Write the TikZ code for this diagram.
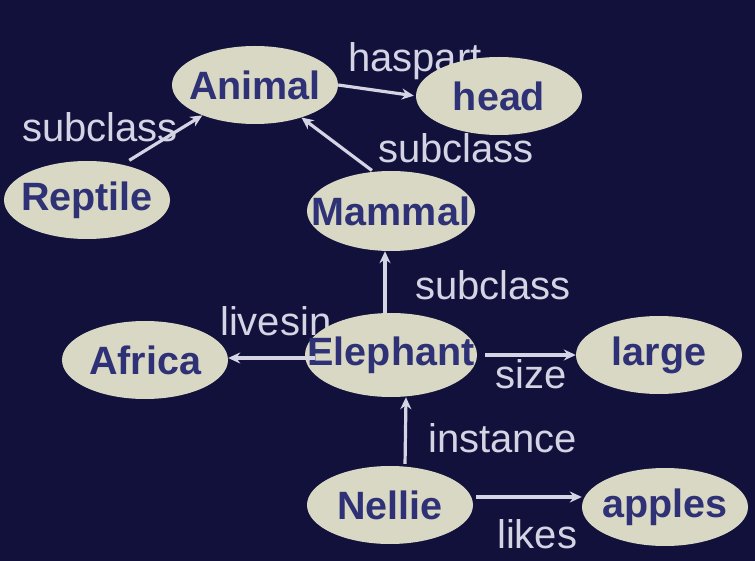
\documentclass[tikz,border=0pt]{standalone}
\usepackage{fontspec}
\setmainfont{Liberation Sans}
\usetikzlibrary{shapes.geometric,arrows.meta}
\definecolor{bgc}{HTML}{11113C}
\definecolor{blobfill}{HTML}{D8D8C4}
\definecolor{blobtext}{HTML}{2E3175}
\definecolor{linec}{HTML}{D4D4E4}
\tikzset{
  blob/.style={ellipse, fill=blobfill, inner sep=0pt, minimum width=166pt, minimum height=78pt,
    label={[text=blobtext, font=\fontsize{39.5}{42}\selectfont\bfseries]center:#1}},
  rel/.style={text=linec, font=\fontsize{40}{42}\selectfont, anchor=base west, inner sep=0pt},
  arr/.style={draw=linec, line width=3.2pt, -{Stealth[length=12pt,width=11pt]}}
}
\begin{document}
\begin{tikzpicture}[x=1pt,y=-1pt]
\fill[bgc] (0,0) rectangle (755,561);
\useasboundingbox (0,0) rectangle (755,561);
% relation labels (behind the ellipses)
\node[rel] (l1) at (348,72) {haspart};
\node[rel] (l2) at (22,142) {subclass};
\node[rel] (l3) at (378,163) {subclass};
\node[rel] (l4) at (415,300) {subclass};
\node[rel] (l5) at (220,335) {livesin};
\node[rel] (l6) at (495,388) {size};
\node[rel] (l7) at (428,452) {instance};
\node[rel] (l8) at (497,548) {likes};
% nodes
\node[blob=Animal] (animal) at (255,85) {};
\node[blob=head] (head) at (499,96) {};
\node[blob=Reptile] (reptile) at (87,200) {};
\node[blob=Mammal, minimum width=168pt, minimum height=80pt] (mammal) at (391,211) {};
\node[blob=Africa] (africa) at (145,360) {};
\node[blob=Elephant, minimum width=172pt, minimum height=84pt] (elephant) at (391,355) {};
\node[blob=large] (large) at (659,355) {};
\node[blob=Nellie] (nellie) at (390,505) {};
\node[blob=apples] (apples) at (665,507) {};
% connectors
\draw[arr, shorten <=8pt] (reptile.45) -- (animal.210);
\draw[arr, shorten <=2pt] (mammal.114) -- (animal.-35);
\draw[arr, shorten >=2pt] (animal.east) -- (head.180);
\draw[arr] ([xshift=-6pt]elephant.north) -- ([xshift=-6pt]mammal.south);
\draw[arr] ([xshift=10pt,yshift=-3pt]elephant.west) -- ([yshift=2pt]africa.east);
\draw[arr, shorten <=8pt] (elephant.east) -- (large.west);
\draw[arr, shorten <=2pt] ([xshift=15pt]nellie.north) -- ([xshift=15pt]elephant.south);
\draw[arr, shorten <=3pt] ([yshift=8pt]nellie.east) -- ([yshift=10pt]apples.west);
\end{tikzpicture}
\end{document}
